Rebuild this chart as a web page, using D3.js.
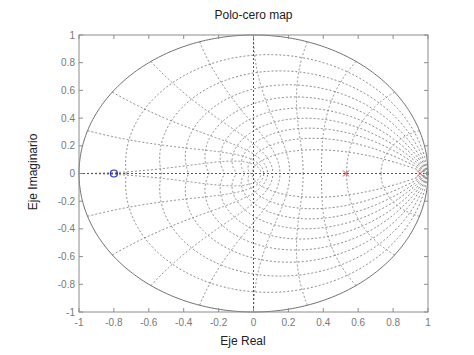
<!DOCTYPE html>
<html>
<head>
<meta charset="utf-8">
<script src="https://cdn.jsdelivr.net/npm/d3@7"></script>
<style>
  html, body { margin: 0; padding: 0; background: #fff; }
  svg { display: block; font-family: "Liberation Sans", Arial, sans-serif; }
</style>
</head>
<body>
<svg id="chart" width="474" height="355"></svg>
<script>
// ---- data ----
const xTicks = [-1, -0.8, -0.6, -0.4, -0.2, 0, 0.2, 0.4, 0.6, 0.8, 1];
const yTicks = [-1, -0.8, -0.6, -0.4, -0.2, 0, 0.2, 0.4, 0.6, 0.8, 1];
const zetaValues = [0.1, 0.2, 0.3, 0.4, 0.5, 0.6, 0.7, 0.8, 0.9];
const wnValues = [0.1, 0.2, 0.3, 0.4, 0.5, 0.6, 0.7, 0.8, 0.9, 1.0]; // times pi
const poleRe = [0.53, 0.955];
const poleIm = [0, 0];
const zeroRe = [-0.8];
const zeroIm = [0];
const titleText = "Polo-cero map";
const xLabelText = "Eje Real";
const yLabelText = "Eje Imaginario";

// ---- layout ----
const svg = d3.select("#chart");
const x = d3.scaleLinear().domain([-1, 1]).range([79, 428]);
const y = d3.scaleLinear().domain([-1, 1]).range([312, 35]);

const line = d3.line().x(d => x(d[0])).y(d => y(d[1]));
const grid = svg.append("g");
const gridStyle = sel => sel.attr("fill", "none").attr("stroke", "#8a8a8a")
  .attr("stroke-width", 1).attr("stroke-dasharray", "2,2");

// constant damping curves
zetaValues.forEach(z => {
  const k = z / Math.sqrt(1 - z * z);
  const pts = d3.range(0, 201).map(i => {
    const wd = Math.PI * i / 200;
    const r = Math.exp(-k * wd);
    return [r * Math.cos(wd), r * Math.sin(wd)];
  });
  grid.append("path").attr("d", line(pts)).call(gridStyle);
  grid.append("path").attr("d", line(pts.map(p => [p[0], -p[1]]))).call(gridStyle);
});

// constant natural frequency curves
wnValues.forEach(w => {
  const wn = w * Math.PI;
  const pts = d3.range(0, 201).map(i => {
    const z = i / 200;
    const r = Math.exp(-wn * z);
    const a = wn * Math.sqrt(1 - z * z);
    return [r * Math.cos(a), r * Math.sin(a)];
  });
  grid.append("path").attr("d", line(pts)).call(gridStyle);
  grid.append("path").attr("d", line(pts.map(p => [p[0], -p[1]]))).call(gridStyle);
});

// real and imaginary axis lines
svg.append("line").attr("x1", x(-1)).attr("x2", x(1)).attr("y1", y(0)).attr("y2", y(0))
  .attr("stroke", "#555").attr("stroke-dasharray", "2,2");
svg.append("line").attr("x1", x(0)).attr("x2", x(0)).attr("y1", y(-1)).attr("y2", y(1))
  .attr("stroke", "#555").attr("stroke-dasharray", "2,2");

// unit circle
const circ = d3.range(0, 361).map(i => [Math.cos(i * Math.PI / 180), Math.sin(i * Math.PI / 180)]);
svg.append("path").attr("d", line(circ)).attr("fill", "none").attr("stroke", "#707070").attr("stroke-width", 1);

// axes box
svg.append("rect").attr("x", x(-1)).attr("y", y(1)).attr("width", x(1) - x(-1)).attr("height", y(-1) - y(1))
  .attr("fill", "none").attr("stroke", "#8c8c8c");

// ticks (inside, all four sides)
const tickG = svg.append("g").attr("stroke", "#8c8c8c");
xTicks.forEach(t => {
  tickG.append("line").attr("x1", x(t)).attr("x2", x(t)).attr("y1", y(-1)).attr("y2", y(-1) - 4);
  tickG.append("line").attr("x1", x(t)).attr("x2", x(t)).attr("y1", y(1)).attr("y2", y(1) + 4);
});
yTicks.forEach(t => {
  tickG.append("line").attr("x1", x(-1)).attr("x2", x(-1) + 4).attr("y1", y(t)).attr("y2", y(t));
  tickG.append("line").attr("x1", x(1)).attr("x2", x(1) - 4).attr("y1", y(t)).attr("y2", y(t));
});

// tick labels
const fmt = d => (d === 0 ? "0" : (Math.abs(d) === 1 ? String(d) : String(d)));
svg.append("g").selectAll("text").data(xTicks).join("text")
  .attr("x", d => x(d)).attr("y", y(-1) + 14).attr("text-anchor", "middle")
  .attr("font-size", 10).attr("fill", "#777").text(fmt);
svg.append("g").selectAll("text").data(yTicks).join("text")
  .attr("x", x(-1) - 4).attr("y", d => y(d) + 3.5).attr("text-anchor", "end")
  .attr("font-size", 10).attr("fill", "#777").text(fmt);

// zeros
svg.append("g").selectAll("circle").data(zeroRe).join("circle")
  .attr("cx", (d, i) => x(d)).attr("cy", (d, i) => y(zeroIm[i])).attr("r", 3.5)
  .attr("fill", "none").attr("stroke", "#2b2bc8").attr("stroke-width", 1.2);

// poles
const pg = svg.append("g").attr("stroke", "#e03c3c").attr("stroke-width", 1);
poleRe.forEach((re, i) => {
  const cx = x(re), cy = y(poleIm[i]), s = 3;
  pg.append("line").attr("x1", cx - s).attr("x2", cx + s).attr("y1", cy - s).attr("y2", cy + s);
  pg.append("line").attr("x1", cx - s).attr("x2", cx + s).attr("y1", cy + s).attr("y2", cy - s);
});

// titles
svg.append("text").attr("x", 253.5).attr("y", 19).attr("text-anchor", "middle")
  .attr("font-size", 12).attr("fill", "#222").text(titleText);
svg.append("text").attr("x", 243).attr("y", 345).attr("text-anchor", "middle")
  .attr("font-size", 12).attr("fill", "#222").text(xLabelText);
svg.append("text").attr("transform", "translate(37,172) rotate(-90)").attr("text-anchor", "middle")
  .attr("font-size", 12).attr("fill", "#222").text(yLabelText);
</script>
</body>
</html>
